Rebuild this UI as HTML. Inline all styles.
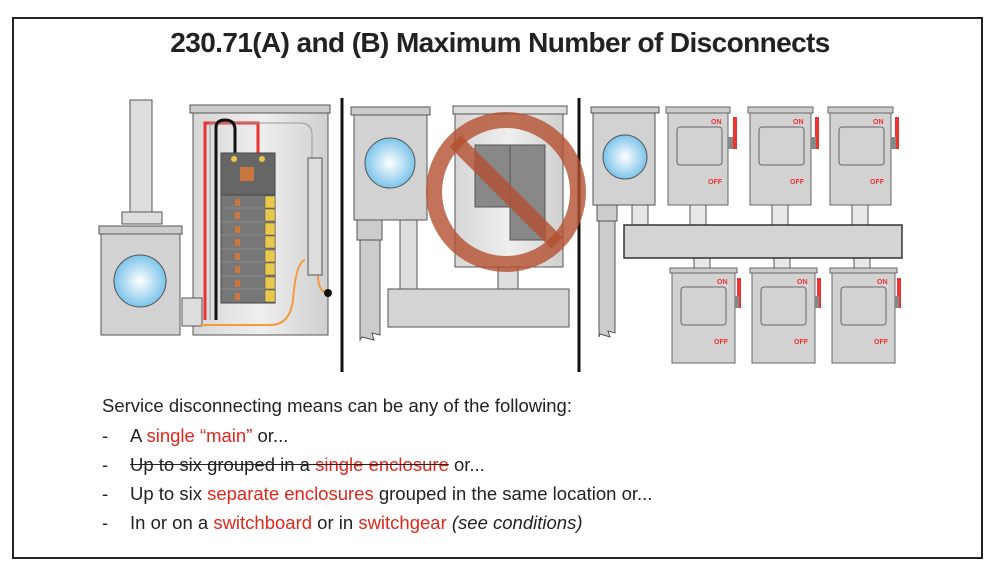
<!DOCTYPE html>
<html><head><meta charset="utf-8"><style>
html,body{margin:0;padding:0;background:#fff}
body{width:1000px;height:570px;position:relative;overflow:hidden;font-family:"Liberation Sans",Arial,sans-serif}
.frame{position:absolute;left:12px;top:17px;width:967px;height:538px;border:2px solid #222}
.title{position:absolute;left:0;width:1000px;top:27px;text-align:center;font-weight:bold;font-size:28px;color:#222;letter-spacing:-0.6px}
.txt{position:absolute;left:102px;font-size:18.5px;color:#222;white-space:nowrap}
.r{color:#e3261b}
.d{display:inline-block;width:28px}
</style></head><body>
<div class="frame"></div>
<div class="title">230.71(A) and (B) Maximum Number of Disconnects</div>
<svg width="1000" height="570" style="position:absolute;left:0;top:0">
<defs>
<radialGradient id="m" cx="0.5" cy="0.5" r="0.5"><stop offset="0" stop-color="#fff"/><stop offset="1" stop-color="#7cc4ea"/></radialGradient>
<linearGradient id="g" x1="0" x2="1"><stop offset="0" stop-color="#d6d6d6"/><stop offset="0.5" stop-color="#efefef"/><stop offset="1" stop-color="#cfcfcf"/></linearGradient>
</defs>
<g stroke="#555" stroke-width="1">
<rect x="130" y="100" width="22" height="115" fill="#ddd"/>
<rect x="122" y="212" width="40" height="12" fill="#ddd"/>
<rect x="99" y="226" width="83" height="8" fill="#ccc"/>
<rect x="101" y="234" width="79" height="101" fill="#d2d2d2"/>
<circle cx="140" cy="281" r="26" fill="url(#m)"/>
<rect x="190" y="105" width="140" height="8" fill="#ccc"/>
<rect x="193" y="113" width="135" height="222" fill="url(#g)"/>
<rect x="182" y="298" width="20" height="28" fill="#ddd"/>
</g>
<path d="M205 320 V123 H258 V153" stroke="#e33" stroke-width="3" fill="none"/>
<path d="M210 320 V123 H300 Q312 123 312 135 V158" stroke="#999" stroke-width="1" fill="none"/>
<path d="M216 320 V128 Q216 120 225 120 Q235 120 235 130 V153" stroke="#111" stroke-width="3" fill="none"/>
<path d="M200 325 H270 Q290 325 293 300 Q296 262 305 260" stroke="#f39a3c" stroke-width="2" fill="none"/>
<path d="M318 275 Q318 292 328 293" stroke="#f39a3c" stroke-width="2" fill="none"/>
<circle cx="328" cy="293" r="4" fill="#111"/>
<rect x="221" y="153" width="54" height="42" fill="#666" stroke="#444"/>
<rect x="240" y="167" width="14" height="14" fill="#c9773f"/>
<circle cx="234" cy="159" r="3" fill="#e8c84a"/><circle cx="262" cy="159" r="3" fill="#e8c84a"/>
<rect x="221" y="195" width="54" height="108" fill="#777" stroke="#444"/>
<g fill="#c9773f">
<rect x="235" y="199" width="5" height="7"/><rect x="235" y="212" width="5" height="7"/><rect x="235" y="226" width="5" height="7"/><rect x="235" y="239" width="5" height="7"/><rect x="235" y="253" width="5" height="7"/><rect x="235" y="266" width="5" height="7"/><rect x="235" y="280" width="5" height="7"/><rect x="235" y="293" width="5" height="7"/>
</g>
<g fill="#e8c84a" stroke="#555" stroke-width="0.5">
<rect x="265" y="196" width="10" height="12"/><rect x="265" y="209" width="10" height="12"/><rect x="265" y="223" width="10" height="12"/><rect x="265" y="236" width="10" height="12"/><rect x="265" y="250" width="10" height="12"/><rect x="265" y="263" width="10" height="12"/><rect x="265" y="277" width="10" height="12"/><rect x="265" y="290" width="10" height="12"/>
</g>
<rect x="308" y="158" width="14" height="117" fill="#ddd" stroke="#555"/>
<g stroke="#888"><line x1="221" y1="208" x2="265" y2="208"/><line x1="221" y1="222" x2="265" y2="222"/><line x1="221" y1="235" x2="265" y2="235"/><line x1="221" y1="249" x2="265" y2="249"/><line x1="221" y1="262" x2="265" y2="262"/><line x1="221" y1="276" x2="265" y2="276"/><line x1="221" y1="289" x2="265" y2="289"/></g>
<line x1="342" y1="98" x2="342" y2="372" stroke="#111" stroke-width="3"/>
<line x1="579" y1="98" x2="579" y2="372" stroke="#111" stroke-width="3"/>
<g stroke="#555" stroke-width="1">
<rect x="351" y="107" width="79" height="8" fill="#ccc"/>
<rect x="354" y="115" width="73" height="105" fill="#d2d2d2"/>
<rect x="357" y="220" width="25" height="20" fill="#ccc"/>
<path d="M360 240 H380 V335 L372 333 L374 340 L362 337 L360 340 Z" fill="#ccc"/>
<rect x="400" y="220" width="17" height="70" fill="#ddd"/>
<rect x="455" y="114" width="108" height="153" fill="url(#g)"/>
<rect x="453" y="106" width="114" height="8" fill="#ddd"/>
<rect x="475" y="145" width="35" height="62" fill="#888"/>
<rect x="510" y="145" width="35" height="95" fill="#888"/>
<rect x="498" y="267" width="20" height="22" fill="#ddd"/>
<rect x="388" y="289" width="181" height="38" fill="#d4d4d4"/>
</g>
<circle cx="390" cy="163" r="25" fill="url(#m)" stroke="#555"/>
<g stroke="#b3502f" stroke-opacity="0.8" fill="none" stroke-width="16">
<circle cx="506" cy="192" r="72"/>
<line x1="455" y1="141" x2="557" y2="243"/>
</g>
<g stroke="#555" stroke-width="1">
<rect x="591" y="107" width="68" height="6" fill="#ccc"/>
<rect x="593" y="113" width="62" height="92" fill="#d2d2d2"/>
<rect x="597" y="205" width="20" height="16" fill="#ccc"/>
<path d="M599 221 H615 V333 L608 331 L610 337 L600 334 L599 337 Z" fill="#ccc"/>
<rect x="632" y="205" width="16" height="22" fill="#e8e8e8"/>
<rect x="690" y="205" width="16" height="22" fill="#e8e8e8"/>
<rect x="772" y="205" width="16" height="22" fill="#e8e8e8"/>
<rect x="852" y="205" width="16" height="22" fill="#e8e8e8"/>
<rect x="694" y="258" width="16" height="12" fill="#e8e8e8"/>
<rect x="774" y="258" width="16" height="12" fill="#e8e8e8"/>
<rect x="854" y="258" width="16" height="12" fill="#e8e8e8"/>
<rect x="624" y="225" width="278" height="33" fill="#d4d4d4" stroke="#333" stroke-width="1.5"/>
</g>
<circle cx="625" cy="157" r="22" fill="url(#m)" stroke="#555"/>
<g stroke="#666" fill="#d2d2d2">
<rect x="666" y="107" width="64" height="6" fill="#ccc"/><rect x="668" y="113" width="60" height="92"/><rect x="677" y="127" width="45" height="38" rx="3"/>
<rect x="748" y="107" width="65" height="6" fill="#ccc"/><rect x="750" y="113" width="61" height="92"/><rect x="759" y="127" width="45" height="38" rx="3"/>
<rect x="828" y="107" width="65" height="6" fill="#ccc"/><rect x="830" y="113" width="61" height="92"/><rect x="839" y="127" width="45" height="38" rx="3"/>
<rect x="670" y="268" width="67" height="5" fill="#ccc"/><rect x="672" y="273" width="63" height="90"/><rect x="681" y="287" width="45" height="38" rx="3"/>
<rect x="750" y="268" width="67" height="5" fill="#ccc"/><rect x="752" y="273" width="63" height="90"/><rect x="761" y="287" width="45" height="38" rx="3"/>
<rect x="830" y="268" width="67" height="5" fill="#ccc"/><rect x="832" y="273" width="63" height="90"/><rect x="841" y="287" width="45" height="38" rx="3"/>
</g>
<g fill="#e33">
<rect x="733" y="117" width="4" height="32"/><rect x="815" y="117" width="4" height="32"/><rect x="895" y="117" width="4" height="32"/>
<rect x="737" y="278" width="4" height="30"/><rect x="817" y="278" width="4" height="30"/><rect x="897" y="278" width="4" height="30"/>
</g>
<g fill="#888"><rect x="728" y="137" width="5" height="12"/><rect x="811" y="137" width="5" height="12"/><rect x="891" y="137" width="5" height="12"/>
<rect x="735" y="296" width="4" height="12"/><rect x="815" y="296" width="4" height="12"/><rect x="895" y="296" width="4" height="12"/></g>
<g font-family="Liberation Sans" font-size="7" font-weight="bold" fill="#e33">
<text x="711" y="124">ON</text><text x="708" y="184">OFF</text>
<text x="793" y="124">ON</text><text x="790" y="184">OFF</text>
<text x="873" y="124">ON</text><text x="870" y="184">OFF</text>
<text x="717" y="284">ON</text><text x="714" y="344">OFF</text>
<text x="797" y="284">ON</text><text x="794" y="344">OFF</text>
<text x="877" y="284">ON</text><text x="874" y="344">OFF</text>
</g>
</svg>
<div class="txt" style="top:395px">Service disconnecting means can be any of the following:</div>
<div class="txt" style="top:425px"><span class="d">-</span>A <span class="r">single “main”</span> or...</div>
<div class="txt" style="top:454px"><span class="d">-</span><s>Up to six grouped in a <span class="r">single enclosure</span></s> or...</div>
<div class="txt" style="top:483px"><span class="d">-</span>Up to six <span class="r">separate enclosures</span> grouped in the same location or...</div>
<div class="txt" style="top:512px"><span class="d">-</span>In or on a <span class="r">switchboard</span> or in <span class="r">switchgear</span> <i>(see conditions)</i></div>
</body></html>
